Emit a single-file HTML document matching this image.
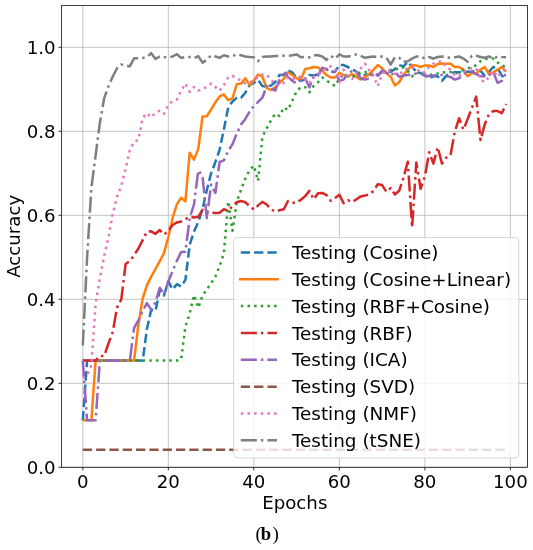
<!DOCTYPE html>
<html lang="en"><head><meta charset="utf-8"><title>Accuracy vs Epochs (b)</title>
<style>html,body{margin:0;padding:0;background:#fff}svg{display:block}text{font-family:"DejaVu Sans","Liberation Sans",sans-serif;fill:#000}.cap{font-family:"Liberation Serif","DejaVu Serif",serif}</style></head><body>
<svg width="533" height="550" viewBox="0 0 533 550">
<rect width="533" height="550" fill="#fff"/>
<path d="M82.80 5.40V467.30M168.32 5.40V467.30M253.84 5.40V467.30M339.36 5.40V467.30M424.88 5.40V467.30M510.40 5.40V467.30M61.60 467.30H527.50M61.60 383.30H527.50M61.60 299.30H527.50M61.60 215.30H527.50M61.60 131.30H527.50M61.60 47.30H527.50" stroke="#b0b0b0" stroke-width="0.75" fill="none"/>
<defs><clipPath id="c"><rect x="61.60" y="5.40" width="465.90" height="461.90"/></clipPath></defs>
<g clip-path="url(#c)" fill="none" stroke-linejoin="round">
<polyline points="82.8,420.3 87.1,360.6 91.4,360.6 95.6,360.6 99.9,360.6 104.2,360.6 108.5,360.6 112.7,360.6 117.0,360.6 121.3,360.6 125.6,360.6 129.8,360.6 134.1,360.6 138.4,360.6 142.7,360.6 146.9,329.1 151.2,309.8 155.5,311.1 159.8,289.9 164.0,295.5 168.3,281.2 172.6,289.4 176.9,284.2 181.1,286.5 185.4,279.9 189.7,244.7 194.0,231.4 198.3,222.0 202.5,209.0 206.8,190.1 211.1,173.3 215.4,162.0 219.6,149.8 223.9,129.2 228.2,107.4 232.5,101.5 236.7,97.9 241.0,97.9 245.3,92.7 249.6,85.1 253.8,82.8 258.1,79.8 262.4,86.1 266.7,86.8 270.9,85.5 275.2,82.2 279.5,75.0 283.8,75.0 288.0,70.6 292.3,72.3 296.6,78.2 300.9,80.9 305.2,79.6 309.4,75.0 313.7,75.6 318.0,74.2 322.3,68.3 326.5,69.1 330.8,71.7 335.1,71.7 339.4,64.9 343.6,65.1 347.9,67.0 352.2,69.1 356.5,71.7 360.7,76.3 365.0,75.0 369.3,74.2 373.6,75.6 377.8,75.6 382.1,71.7 386.4,70.9 390.7,71.7 394.9,69.1 399.2,65.1 403.5,66.4 407.8,61.8 412.1,67.0 416.3,71.7 420.6,72.9 424.9,75.6 429.2,78.2 433.4,76.3 437.7,76.3 442.0,80.9 446.3,75.6 450.5,73.6 454.8,72.3 459.1,72.3 463.4,71.7 467.6,71.7 471.9,71.7 476.2,70.4 480.5,70.9 484.7,75.6 489.0,71.7 493.3,67.0 497.6,68.3 501.8,75.6 506.1,78.8" stroke="#1f77b4" stroke-width="2.51" stroke-dasharray="9.29 4.02"/>
<polyline points="82.8,420.3 87.1,420.3 91.4,420.3 95.6,360.6 99.9,360.6 104.2,360.6 108.5,360.6 112.7,360.6 117.0,360.6 121.3,360.6 125.6,360.6 129.8,360.6 134.1,360.6 138.4,324.5 142.7,298.5 146.9,285.4 151.2,276.6 155.5,268.9 159.8,261.1 164.0,253.1 168.3,237.1 172.6,218.2 176.9,204.4 181.1,197.7 185.4,201.4 189.7,152.7 194.0,159.6 198.3,148.9 202.5,116.6 206.8,116.2 211.1,109.5 215.4,102.3 219.6,96.4 223.9,94.5 228.2,100.2 232.5,98.3 236.7,84.3 241.0,83.6 245.3,78.2 249.6,85.1 253.8,80.7 258.1,74.5 262.4,76.7 266.7,88.0 270.9,90.1 275.2,87.4 279.5,82.8 283.8,78.8 288.0,72.3 292.3,75.0 296.6,78.2 300.9,79.6 305.2,69.1 309.4,68.3 313.7,67.0 318.0,67.5 322.3,70.9 326.5,75.0 330.8,77.5 335.1,77.5 339.4,72.9 343.6,75.0 347.9,76.3 352.2,74.2 356.5,76.9 360.7,79.6 365.0,76.9 369.3,74.2 373.6,69.6 377.8,65.1 382.1,68.3 386.4,72.9 390.7,76.9 394.9,85.5 399.2,82.2 403.5,75.0 407.8,69.6 412.1,65.1 416.3,65.4 420.6,67.0 424.9,65.4 429.2,65.4 433.4,67.0 437.7,64.1 442.0,63.5 446.3,63.7 450.5,63.7 454.8,67.0 459.1,67.0 463.4,69.6 467.6,76.3 471.9,72.9 476.2,73.6 480.5,69.6 484.7,67.0 489.0,74.0 493.3,72.3 497.6,69.6 501.8,67.0 506.1,71.7" stroke="#ff7f0e" stroke-width="2.51"/>
<polyline points="82.8,360.6 87.1,360.6 91.4,360.6 95.6,360.6 99.9,360.6 104.2,360.6 108.5,360.6 112.7,360.6 117.0,360.6 121.3,360.6 125.6,360.6 129.8,360.6 134.1,360.6 138.4,360.6 142.7,360.6 146.9,360.6 151.2,360.6 155.5,360.6 159.8,360.6 164.0,360.6 168.3,360.6 172.6,360.6 176.9,360.6 181.1,359.4 185.4,326.6 189.7,313.6 194.0,295.1 198.3,307.7 202.5,295.7 206.8,289.6 211.1,283.3 215.4,276.6 219.6,266.1 223.9,253.1 228.2,201.4 232.5,230.8 236.7,202.3 241.0,189.7 245.3,178.6 249.6,170.1 253.8,165.7 258.1,180.9 262.4,136.8 266.7,128.4 270.9,120.4 275.2,113.7 279.5,116.0 283.8,107.4 288.0,110.0 292.3,100.8 296.6,91.0 300.9,87.2 305.2,87.2 309.4,92.2 313.7,85.9 318.0,82.2 322.3,77.5 326.5,80.5 330.8,83.4 335.1,86.1 339.4,78.2 343.6,75.0 347.9,76.3 352.2,77.5 356.5,74.2 360.7,72.3 365.0,71.9 369.3,73.6 373.6,75.4 377.8,74.6 382.1,73.3 386.4,70.6 390.7,70.1 394.9,70.4 399.2,67.3 403.5,67.7 407.8,70.9 412.1,76.3 416.3,73.6 420.6,72.3 424.9,74.6 429.2,75.0 433.4,74.2 437.7,73.6 442.0,72.7 446.3,72.1 450.5,71.9 454.8,73.6 459.1,72.5 463.4,70.0 467.6,68.3 471.9,67.3 476.2,65.1 480.5,61.2 484.7,59.1 489.0,58.6 493.3,58.6 497.6,62.4 501.8,65.4 506.1,67.0" stroke="#2ca02c" stroke-width="2.51" stroke-dasharray="2.51 4.14"/>
<polyline points="82.8,360.6 87.1,360.6 91.4,360.6 95.6,360.6 99.9,356.0 104.2,356.0 108.5,343.4 112.7,332.1 117.0,307.7 121.3,299.3 125.6,264.0 129.8,261.1 134.1,255.2 138.4,248.5 142.7,240.1 146.9,231.7 151.2,231.3 155.5,233.8 159.8,230.0 164.0,234.6 168.3,230.8 172.6,225.0 176.9,222.4 181.1,221.6 185.4,219.2 189.7,216.6 194.0,217.4 198.3,216.8 202.5,209.8 206.8,213.6 211.1,212.7 215.4,213.0 219.6,212.7 223.9,209.3 228.2,210.7 232.5,206.1 236.7,202.3 241.0,201.0 245.3,202.3 249.6,206.1 253.8,209.5 258.1,205.4 262.4,201.9 266.7,204.5 270.9,209.2 275.2,211.6 279.5,210.3 283.8,209.2 288.0,201.0 292.3,202.7 296.6,202.7 300.9,199.8 305.2,196.1 309.4,190.9 313.7,199.3 318.0,193.2 322.3,192.9 326.5,195.1 330.8,200.8 335.1,198.0 339.4,194.7 343.6,203.1 347.9,200.2 352.2,202.0 356.5,199.3 360.7,196.4 365.0,195.6 369.3,194.5 373.6,190.8 377.8,184.2 382.1,185.1 386.4,191.8 390.7,188.0 394.9,194.5 399.2,190.8 403.5,177.6 407.8,161.7 412.1,227.4 416.3,162.6 420.6,188.8 424.9,176.2 429.2,152.3 433.4,163.6 437.7,147.3 442.0,163.6 446.3,157.5 450.5,155.4 454.8,131.7 459.1,118.3 463.4,129.6 467.6,119.3 471.9,107.9 476.2,96.6 480.5,140.1 484.7,124.6 489.0,114.1 493.3,111.1 497.6,111.1 501.8,113.2 506.1,104.0" stroke="#d62728" stroke-width="2.51" stroke-dasharray="16.06 4.02 2.51 4.02"/>
<polyline points="82.8,360.6 87.1,420.3 91.4,420.3 95.6,420.3 99.9,360.6 104.2,360.6 108.5,360.6 112.7,360.6 117.0,360.6 121.3,360.6 125.6,360.6 129.8,360.6 134.1,327.9 138.4,320.3 142.7,311.1 146.9,303.1 151.2,309.8 155.5,302.2 159.8,287.8 164.0,294.3 168.3,281.5 172.6,271.2 176.9,260.7 181.1,252.1 185.4,251.8 189.7,218.2 194.0,204.4 198.3,170.4 202.5,176.2 206.8,218.2 211.1,184.6 215.4,193.0 219.6,162.0 223.9,160.3 228.2,150.7 232.5,144.3 236.7,133.8 241.0,124.6 245.3,118.9 249.6,111.6 253.8,106.1 258.1,101.9 262.4,97.7 266.7,86.1 270.9,88.0 275.2,90.7 279.5,79.6 283.8,70.9 288.0,76.9 292.3,80.9 296.6,83.4 300.9,79.6 305.2,78.2 309.4,87.4 313.7,76.3 318.0,75.6 322.3,67.7 326.5,69.6 330.8,70.9 335.1,72.9 339.4,80.9 343.6,79.6 347.9,73.6 352.2,70.9 356.5,72.9 360.7,78.2 365.0,79.6 369.3,78.2 373.6,72.3 377.8,75.6 382.1,70.7 386.4,72.9 390.7,75.6 394.9,71.7 399.2,76.7 403.5,75.6 407.8,75.0 412.1,74.2 416.3,73.6 420.6,73.6 424.9,75.6 429.2,76.3 433.4,75.6 437.7,75.0 442.0,75.0 446.3,76.3 450.5,76.9 454.8,79.6 459.1,78.2 463.4,73.6 467.6,72.3 471.9,71.7 476.2,74.2 480.5,76.3 484.7,76.3 489.0,75.0 493.3,72.3 497.6,82.8 501.8,80.9 506.1,72.9" stroke="#9467bd" stroke-width="2.51" stroke-dasharray="16.06 4.02 2.51 4.02"/>
<polyline points="82.8,449.7 87.1,449.7 91.4,449.7 95.6,449.7 99.9,449.7 104.2,449.7 108.5,449.7 112.7,449.7 117.0,449.7 121.3,449.7 125.6,449.7 129.8,449.7 134.1,449.7 138.4,449.7 142.7,449.7 146.9,449.7 151.2,449.7 155.5,449.7 159.8,449.7 164.0,449.7 168.3,449.7 172.6,449.7 176.9,449.7 181.1,449.7 185.4,449.7 189.7,449.7 194.0,449.7 198.3,449.7 202.5,449.7 206.8,449.7 211.1,449.7 215.4,449.7 219.6,449.7 223.9,449.7 228.2,449.7 232.5,449.7 236.7,449.7 241.0,449.7 245.3,449.7 249.6,449.7 253.8,449.7 258.1,449.7 262.4,449.7 266.7,449.7 270.9,449.7 275.2,449.7 279.5,449.7 283.8,449.7 288.0,449.7 292.3,449.7 296.6,449.7 300.9,449.7 305.2,449.7 309.4,449.7 313.7,449.7 318.0,449.7 322.3,449.7 326.5,449.7 330.8,449.7 335.1,449.7 339.4,449.7 343.6,449.7 347.9,449.7 352.2,449.7 356.5,449.7 360.7,449.7 365.0,449.7 369.3,449.7 373.6,449.7 377.8,449.7 382.1,449.7 386.4,449.7 390.7,449.7 394.9,449.7 399.2,449.7 403.5,449.7 407.8,449.7 412.1,449.7 416.3,449.7 420.6,449.7 424.9,449.7 429.2,449.7 433.4,449.7 437.7,449.7 442.0,449.7 446.3,449.7 450.5,449.7 454.8,449.7 459.1,449.7 463.4,449.7 467.6,449.7 471.9,449.7 476.2,449.7 480.5,449.7 484.7,449.7 489.0,449.7 493.3,449.7 497.6,449.7 501.8,449.7 506.1,449.7" stroke="#8c564b" stroke-width="2.51" stroke-dasharray="9.29 4.02"/>
<polyline points="82.8,377.8 87.1,375.3 91.4,365.2 95.6,303.9 99.9,278.3 104.2,255.6 108.5,237.1 112.7,214.0 117.0,197.0 121.3,185.9 125.6,168.9 129.8,150.2 134.1,141.8 138.4,139.7 142.7,117.9 146.9,113.2 151.2,117.4 155.5,112.8 159.8,110.7 164.0,113.7 168.3,104.8 172.6,101.1 176.9,99.4 181.1,90.8 185.4,83.6 189.7,91.8 194.0,87.0 198.3,90.6 202.5,88.9 206.8,87.0 211.1,83.6 215.4,87.0 219.6,90.8 223.9,85.1 228.2,77.5 232.5,75.9 236.7,78.5 241.0,80.5 245.3,83.4 249.6,82.3 253.8,80.5 258.1,76.9 262.4,74.6 266.7,74.6 270.9,79.6 275.2,84.3 279.5,85.5 283.8,82.8 288.0,77.5 292.3,79.6 296.6,76.9 300.9,76.9 305.2,79.6 309.4,83.4 313.7,76.9 318.0,75.4 322.3,70.9 326.5,67.7 330.8,66.4 335.1,68.3 339.4,82.2 343.6,69.6 347.9,76.3 352.2,78.8 356.5,72.3 360.7,68.3 365.0,63.7 369.3,70.4 373.6,76.3 377.8,86.1 382.1,74.2 386.4,70.4 390.7,70.9 394.9,73.6 399.2,74.6 403.5,70.6 407.8,68.3 412.1,67.3 416.3,68.3 420.6,72.9 424.9,72.3 429.2,67.0 433.4,63.7 437.7,62.0 442.0,61.2 446.3,67.0 450.5,69.6 454.8,75.0 459.1,75.9 463.4,71.7 467.6,69.1 471.9,68.1 476.2,68.7 480.5,79.6 484.7,82.2 489.0,76.9 493.3,70.9 497.6,76.9 501.8,71.7 506.1,68.3" stroke="#e377c2" stroke-width="2.51" stroke-dasharray="2.51 4.14"/>
<polyline points="82.8,345.5 87.1,257.3 91.4,187.6 95.6,155.7 99.9,122.6 104.2,98.2 108.5,86.1 112.7,76.7 117.0,68.3 121.3,64.5 125.6,65.4 129.8,66.4 134.1,58.3 138.4,58.3 142.7,57.9 146.9,57.0 151.2,53.2 155.5,58.9 159.8,56.5 164.0,57.0 168.3,57.4 172.6,56.5 176.9,54.2 181.1,57.9 185.4,57.0 189.7,57.0 194.0,58.2 198.3,56.1 202.5,62.6 206.8,59.9 211.1,55.3 215.4,56.5 219.6,57.9 223.9,55.3 228.2,56.5 232.5,56.1 236.7,54.2 241.0,55.3 245.3,56.5 249.6,57.0 253.8,57.2 258.1,61.2 262.4,57.0 266.7,56.5 270.9,56.5 275.2,56.1 279.5,55.9 283.8,55.7 288.0,55.9 292.3,55.3 296.6,54.4 300.9,57.2 305.2,57.0 309.4,57.4 313.7,55.3 318.0,55.3 322.3,56.5 326.5,59.9 330.8,55.9 335.1,58.6 339.4,54.4 343.6,56.5 347.9,56.5 352.2,55.7 356.5,54.4 360.7,55.9 365.0,57.8 369.3,57.0 373.6,56.5 377.8,57.2 382.1,56.5 386.4,57.8 390.7,64.5 394.9,57.2 399.2,57.8 403.5,61.8 407.8,61.2 412.1,58.6 416.3,56.5 420.6,56.5 424.9,58.6 429.2,57.0 433.4,58.6 437.7,57.0 442.0,56.5 446.3,57.2 450.5,57.8 454.8,57.2 459.1,56.5 463.4,58.6 467.6,61.8 471.9,55.9 476.2,55.7 480.5,57.0 484.7,57.8 489.0,56.5 493.3,58.6 497.6,56.5 501.8,57.0 506.1,57.2" stroke="#7f7f7f" stroke-width="2.51" stroke-dasharray="16.06 4.02 2.51 4.02"/>
</g>
<path d="M82.80 467.30v3.1M168.32 467.30v3.1M253.84 467.30v3.1M339.36 467.30v3.1M424.88 467.30v3.1M510.40 467.30v3.1M61.60 467.30h-3.1M61.60 383.30h-3.1M61.60 299.30h-3.1M61.60 215.30h-3.1M61.60 131.30h-3.1M61.60 47.30h-3.1" stroke="#000" stroke-width="0.8" fill="none"/>
<rect x="61.60" y="5.40" width="465.90" height="461.90" fill="none" stroke="#1a1a1a" stroke-width="0.85"/>
<text x="82.80" y="487.60" font-size="18.20" text-anchor="middle">0</text>
<text x="168.32" y="487.60" font-size="18.20" text-anchor="middle">20</text>
<text x="253.84" y="487.60" font-size="18.20" text-anchor="middle">40</text>
<text x="339.36" y="487.60" font-size="18.20" text-anchor="middle">60</text>
<text x="424.88" y="487.60" font-size="18.20" text-anchor="middle">80</text>
<text x="510.40" y="487.60" font-size="18.20" text-anchor="middle">100</text>
<text x="55.70" y="474.00" font-size="18.20" text-anchor="end">0.0</text>
<text x="55.70" y="390.00" font-size="18.20" text-anchor="end">0.2</text>
<text x="55.70" y="306.00" font-size="18.20" text-anchor="end">0.4</text>
<text x="55.70" y="222.00" font-size="18.20" text-anchor="end">0.6</text>
<text x="55.70" y="138.00" font-size="18.20" text-anchor="end">0.8</text>
<text x="55.70" y="54.00" font-size="18.20" text-anchor="end">1.0</text>
<text x="294.80" y="508.50" font-size="18.20" text-anchor="middle">Epochs</text>
<text transform="translate(20.00 236.30) rotate(-90)" font-size="18.20" text-anchor="middle">Accuracy</text>
<rect x="233.60" y="237.50" width="285.20" height="220.50" rx="4" ry="4" fill="#fff" fill-opacity="0.8" stroke="#ccc" stroke-opacity="0.8" stroke-width="1"/>
<path d="M240.80 252.40h36.20" stroke="#1f77b4" stroke-width="2.51" fill="none" stroke-dasharray="9.29 4.02"/>
<text x="291.90" y="259.00" font-size="18.40">Testing (Cosine)</text>
<path d="M239.00 279.25h39.90" stroke="#ff7f0e" stroke-width="2.51" fill="none"/>
<text x="291.90" y="285.85" font-size="18.40">Testing (Cosine+Linear)</text>
<path d="M240.80 306.10h36.20" stroke="#2ca02c" stroke-width="2.51" fill="none" stroke-dasharray="2.51 4.14"/>
<text x="291.90" y="312.70" font-size="18.40">Testing (RBF+Cosine)</text>
<path d="M240.80 332.95h36.20" stroke="#d62728" stroke-width="2.51" fill="none" stroke-dasharray="16.06 4.02 2.51 4.02"/>
<text x="291.90" y="339.55" font-size="18.40">Testing (RBF)</text>
<path d="M240.80 359.80h36.20" stroke="#9467bd" stroke-width="2.51" fill="none" stroke-dasharray="16.06 4.02 2.51 4.02"/>
<text x="291.90" y="366.40" font-size="18.40">Testing (ICA)</text>
<path d="M240.80 386.65h36.20" stroke="#8c564b" stroke-width="2.51" fill="none" stroke-dasharray="9.29 4.02"/>
<text x="291.90" y="393.25" font-size="18.40">Testing (SVD)</text>
<path d="M240.80 413.50h36.20" stroke="#e377c2" stroke-width="2.51" fill="none" stroke-dasharray="2.51 4.14"/>
<text x="291.90" y="420.10" font-size="18.40">Testing (NMF)</text>
<path d="M240.80 440.35h36.20" stroke="#7f7f7f" stroke-width="2.51" fill="none" stroke-dasharray="16.06 4.02 2.51 4.02"/>
<text x="291.90" y="446.95" font-size="18.40">Testing (tSNE)</text>
<text class="cap" y="540.4" font-size="19"><tspan x="255.6">(</tspan><tspan x="260.8" font-size="18.6" font-weight="bold">b</tspan><tspan x="272.6">)</tspan></text>
</svg></body></html>
